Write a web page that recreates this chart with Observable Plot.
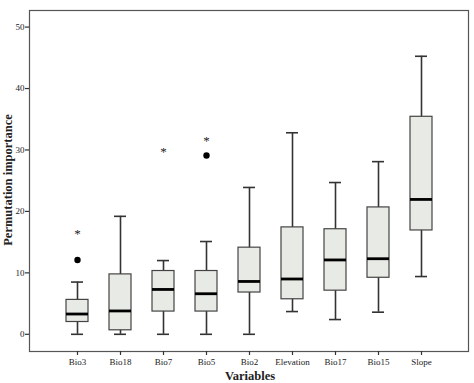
<!DOCTYPE html>
<html><head><meta charset="utf-8">
<script src="https://cdn.jsdelivr.net/npm/d3@7"></script>
<script src="https://cdn.jsdelivr.net/npm/@observablehq/plot@0.6"></script>
<style>body{margin:0;background:#fff}</style>
</head><body><div id="chart"></div>
<script>
const variables = ["Bio3","Bio18","Bio7","Bio5","Bio2","Elevation","Bio17","Bio15","Slope"];
const mins    = [0,    0,    0,    0,    0,    3.7,  2.4,  3.6,  9.4];
const q1s     = [2.0,  0.65, 3.7,  3.7,  6.8,  5.7,  7.1,  9.2,  16.9];
const medians = [3.3,  3.8,  7.3,  6.6,  8.6,  9.0,  12.1, 12.3, 21.95];
const q3s     = [5.6,  9.75, 10.3, 10.3, 14.1, 17.4, 17.1, 20.65,35.4];
const maxs    = [8.5,  19.2, 12.0, 15.1, 23.9, 32.8, 24.7, 28.1, 45.25];
const outlierVar = ["Bio3","Bio5"];
const outlierVal = [12.1, 29.1];
const extremeVar = ["Bio3","Bio7","Bio5"];
const extremeVal = [16.8, 30.2, 31.9];
const yTicks = [0,10,20,30,40,50];

const boxes = variables.map((v,i)=>({v,min:mins[i],q1:q1s[i],med:medians[i],q3:q3s[i],max:maxs[i]}));
const outliers = outlierVar.map((v,i)=>({v,y:outlierVal[i]}));
const extremes = extremeVar.map((v,i)=>({v,y:extremeVal[i]}));

const chart = Plot.plot({
  width: 474, height: 383,
  marginLeft: 29, marginTop: 10, marginRight: 6, marginBottom: 32,
  style: {fontFamily: "'Liberation Serif', 'Times New Roman', serif", fontSize: "9px", color: "#222", background: "#fff"},
  x: {type: "band", domain: variables, paddingInner: 0.5, paddingOuter: 0.75, label: null},
  y: {domain: [-2.8, 52.7], label: null},
  marks: [
    Plot.frame({stroke: "#555", strokeWidth: 1.2}),
    Plot.axisY({ticks: yTicks, tickSize: 4, tickPadding: 1, label: null, stroke: "#333", strokeWidth: 1.2}),
    Plot.axisX({tickSize: 4, tickPadding: 3, label: null, stroke: "#333", strokeWidth: 1.2}),
    Plot.ruleX(boxes, {x: "v", y1: "min", y2: "max", stroke: "#333", strokeWidth: 1.6}),
    Plot.tickY(boxes, {x: "v", y: "min", stroke: "#333", strokeWidth: 1.6, insetLeft: 5, insetRight: 5}),
    Plot.tickY(boxes, {x: "v", y: "max", stroke: "#333", strokeWidth: 1.6, insetLeft: 5, insetRight: 5}),
    Plot.barY(boxes, {x: "v", y1: "q1", y2: "q3", fill: "#e8ebe5", stroke: "#444", strokeWidth: 1.2}),
    Plot.tickY(boxes, {x: "v", y: "med", stroke: "#000", strokeWidth: 2.8}),
    Plot.dot(outliers, {x: "v", y: "y", r: 3.2, fill: "#000", stroke: "none"}),
    Plot.text(extremes, {x: "v", y: "y", text: () => "*", fontSize: 13, dy: 3, fill: "#222"})
  ]
});

const svg = d3.select(chart);
svg.append("text")
  .attr("transform", "translate(12,180) rotate(-90)")
  .attr("text-anchor", "middle")
  .attr("font-weight", "bold").attr("font-size", 12.5)
  .attr("fill", "#222")
  .text("Permutation importance");
svg.append("text")
  .attr("x", 250).attr("y", 379.5)
  .attr("text-anchor", "middle")
  .attr("font-weight", "bold").attr("font-size", 12.5)
  .attr("fill", "#222")
  .text("Variables");
document.getElementById("chart").appendChild(chart);
</script></body></html>
